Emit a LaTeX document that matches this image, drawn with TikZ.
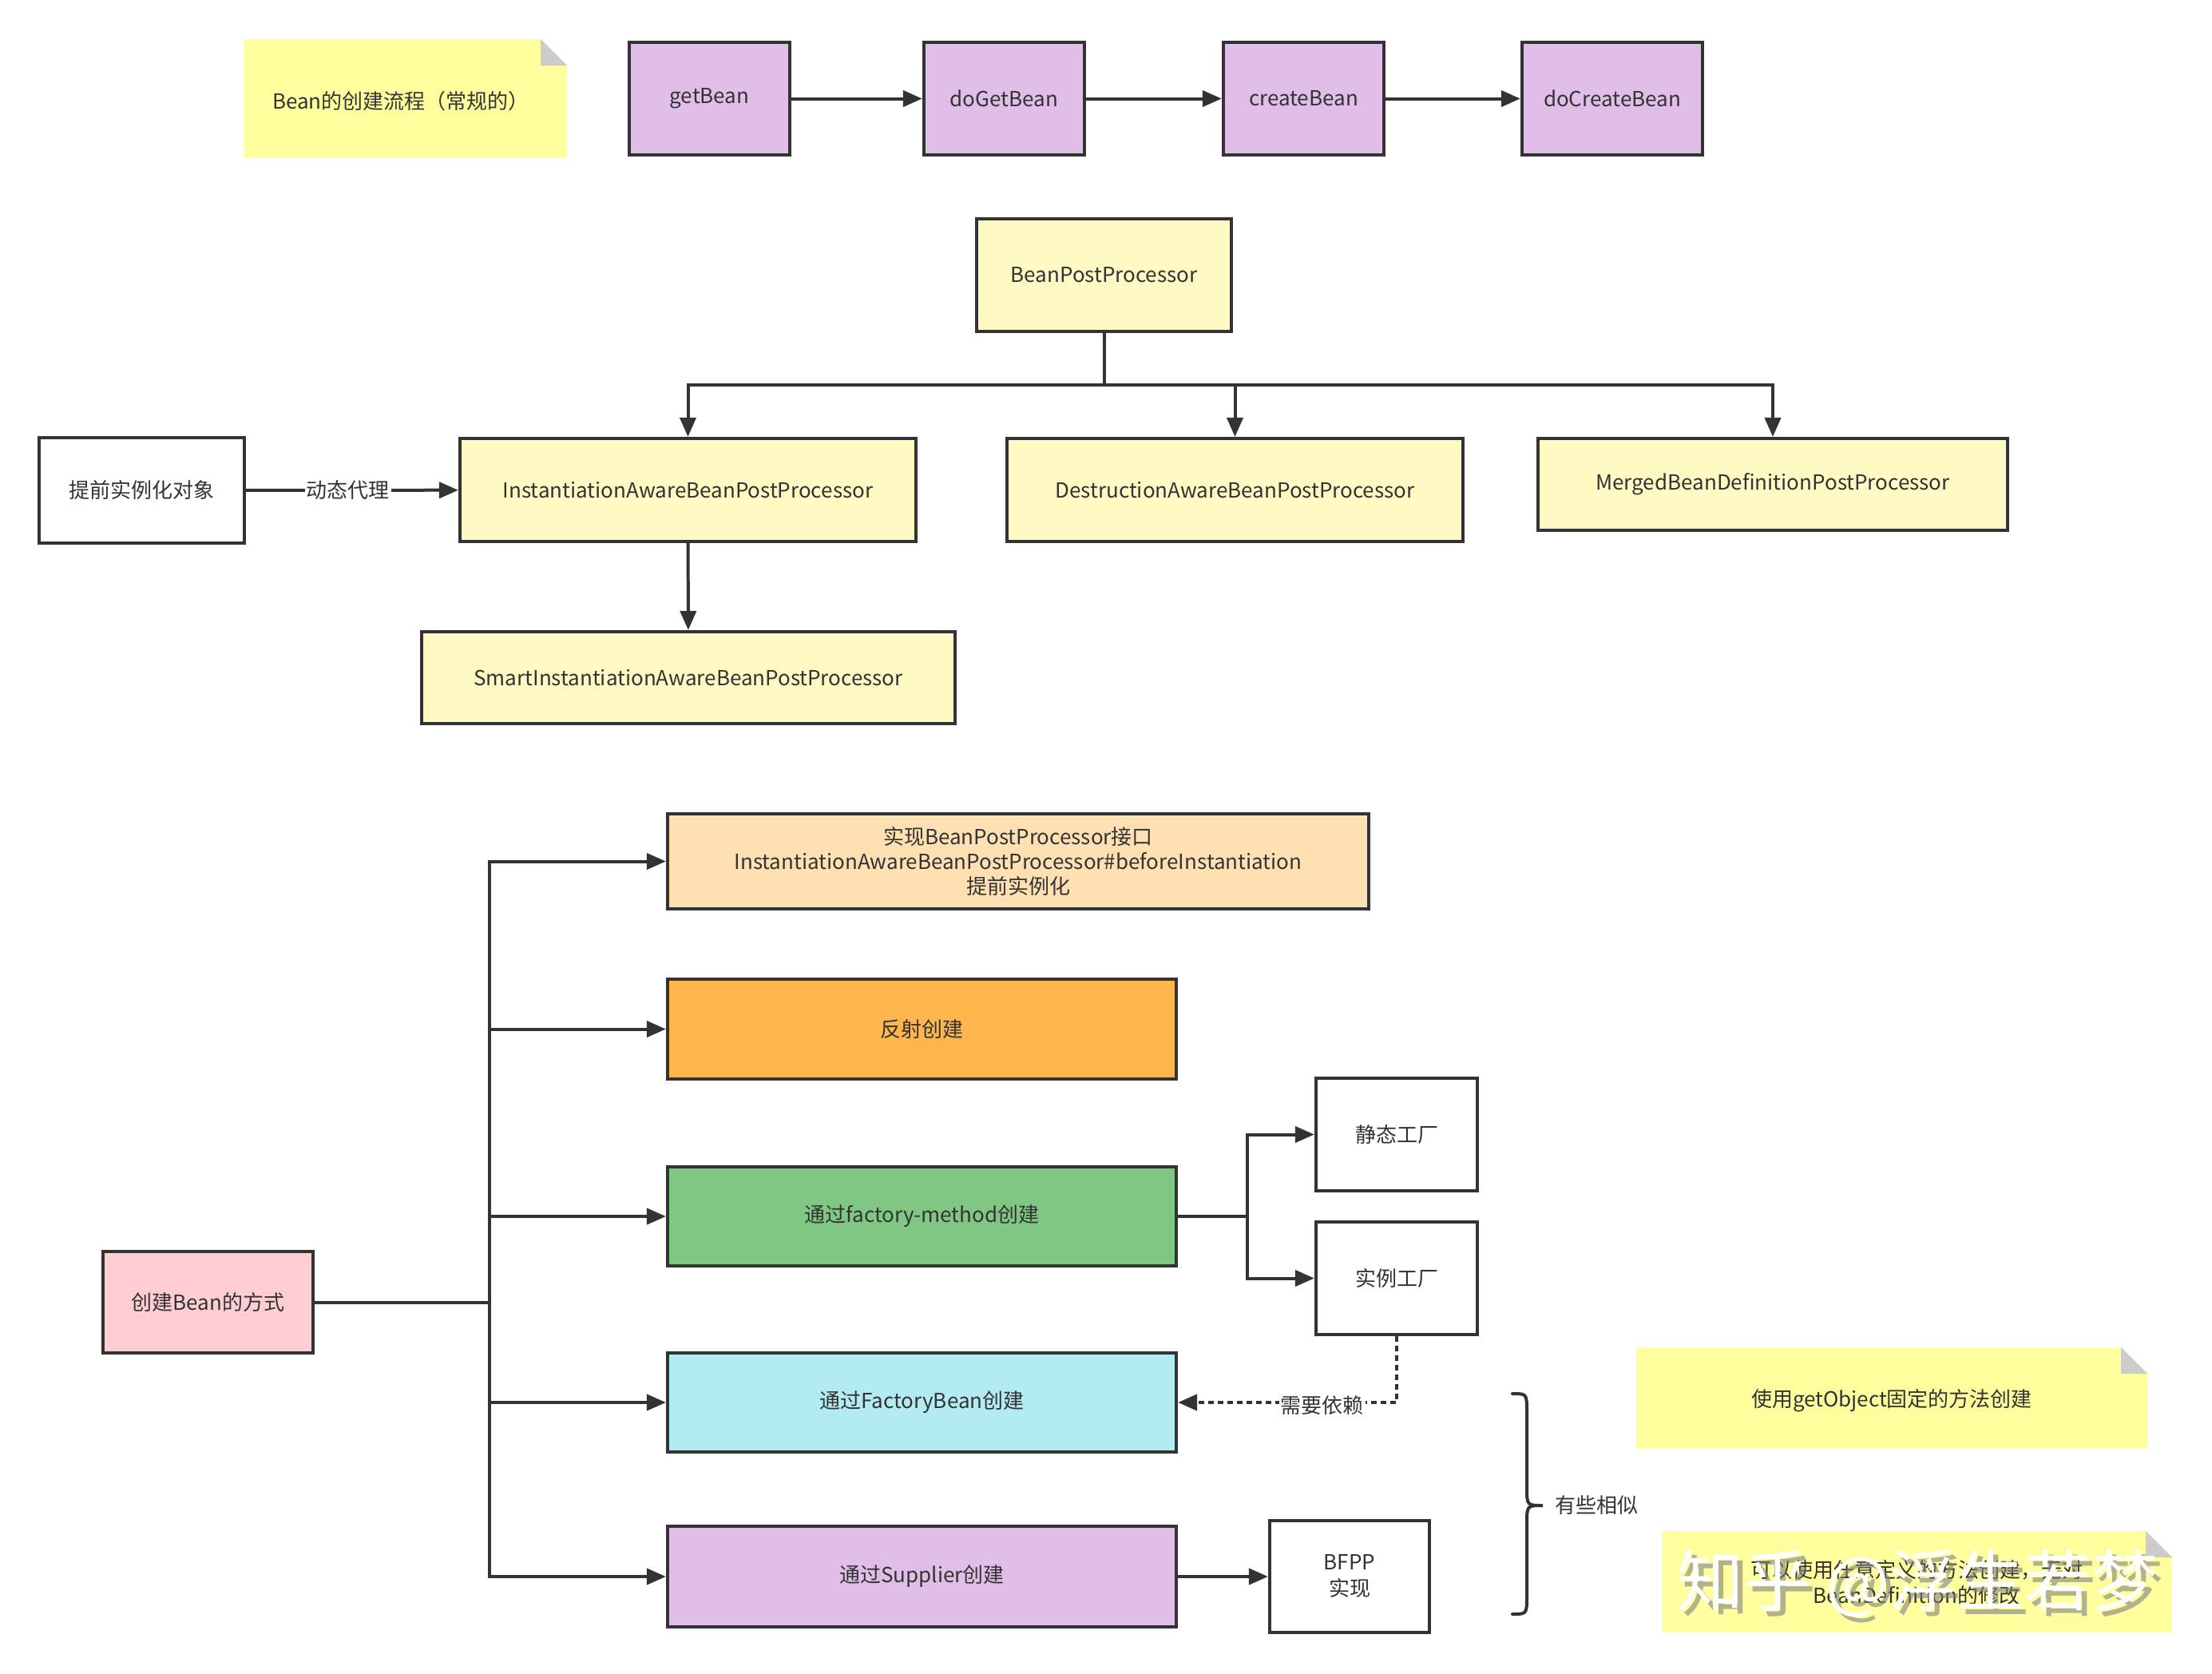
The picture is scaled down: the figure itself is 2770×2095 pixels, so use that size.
\documentclass[tikz,border=0pt]{standalone}
\usepackage{fontspec}
\setmainfont{Noto Sans CJK SC}
\usetikzlibrary{arrows.meta}
\definecolor{bd}{HTML}{333333}
\definecolor{txt}{HTML}{333333}
\definecolor{notey}{HTML}{FFFF9E}
\definecolor{fold}{HTML}{CCCCCC}
\definecolor{purp}{HTML}{E1BEE7}
\definecolor{bppy}{HTML}{FFF9C4}
\definecolor{lorange}{HTML}{FFE0B2}
\definecolor{orng}{HTML}{FFB74D}
\definecolor{grn}{HTML}{81C784}
\definecolor{cyn}{HTML}{B2EBF2}
\definecolor{pnk}{HTML}{FFCDD2}
\begin{document}
\begin{tikzpicture}[x=0.5pt,y=-0.5pt,
  every node/.style={font=\fontsize{13pt}{16pt}\selectfont, text=txt},
  bx/.style={draw=bd, line width=2.1pt, inner sep=0pt, align=center},
  conn/.style={draw=bd, line width=2pt},
  arr/.style={conn, -{Triangle[length=12pt,width=10pt]}},
  lbl/.style={fill=white, inner sep=1pt}]
\useasboundingbox (0,0) rectangle (2770,2095);
\fill[white] (0,0) rectangle (2770,2095);

% ---- notes
\fill[notey] (306,49) -- (677,49) -- (710,82) -- (710,198) -- (306,198) -- cycle;
\fill[fold] (677,49) -- (677,82) -- (710,82) -- cycle;
\node (n1) at (502,127) {Bean的创建流程（常规的）};

\fill[notey] (2049,1687) -- (2656,1687) -- (2689,1720) -- (2689,1814) -- (2049,1814) -- cycle;
\fill[fold] (2656,1687) -- (2656,1720) -- (2689,1720) -- cycle;
\node (n2) at (2369,1754) {使用getObject固定的方法创建};

\fill[notey] (2081,1917) -- (2687,1917) -- (2720,1950) -- (2720,2044) -- (2081,2044) -- cycle;
\fill[fold] (2687,1917) -- (2687,1950) -- (2720,1950) -- cycle;
\node[align=center] (n3) at (2400,1982) {可以使用任意定义的方法创建，无对\\BeanDefinition的修改};

% ---- top row
\node[bx, fill=purp, minimum width=100.5pt, minimum height=70.5pt] (getb) at (888.5,123.5) {getBean};
\node[bx, fill=purp, minimum width=100.5pt, minimum height=70.5pt] (dogetb) at (1257.5,123.5) {doGetBean};
\node[bx, fill=purp, minimum width=100.5pt, minimum height=70.5pt] (createb) at (1632.5,123.5) {createBean};
\node[bx, fill=purp, minimum width=113pt, minimum height=70.5pt] (docreateb) at (2019,123.5) {doCreateBean};
\draw[arr] (getb) -- (dogetb);
\draw[arr] (dogetb) -- (createb);
\draw[arr] (createb) -- (docreateb);

% ---- BPP tree
\node[bx, fill=bppy, minimum width=159.5pt, minimum height=70.5pt] (bpp) at (1382.5,344.5) {BeanPostProcessor};
\node[bx, fill=bppy, minimum width=285.5pt, minimum height=64.5pt] (iabpp) at (861.5,613.5) {InstantiationAwareBeanPostProcessor};
\node[bx, fill=bppy, minimum width=285.5pt, minimum height=64.5pt] (dabpp) at (1546.5,613.5) {DestructionAwareBeanPostProcessor};
\node[bx, fill=bppy, minimum width=294pt, minimum height=57.5pt] (mbdpp) at (2220,606.5) {MergedBeanDefinitionPostProcessor};
\node[bx, fill=white, minimum width=128.5pt, minimum height=66pt] (early) at (177.5,614) {提前实例化对象};
\node[bx, fill=bppy, minimum width=334pt, minimum height=57.5pt] (smart) at (862,848.5) {SmartInstantiationAwareBeanPostProcessor};

\draw[arr] (bpp.south) -- ++(0,65) -| (iabpp.north);
\draw[arr] (bpp.south) -- ++(0,65) -| (dabpp.north);
\draw[arr] (bpp.south) -- ++(0,65) -| (mbdpp.north);
\draw[arr] (early) -- node[lbl, pos=0.48] {动态代理} (iabpp);
\draw[arr] (iabpp) -- (smart);

% ---- creation ways
\node[bx, fill=pnk, minimum width=131.5pt, minimum height=63.5pt] (ways) at (260.5,1630.5) {创建Bean的方式};
\node[bx, fill=lorange, minimum width=439pt, minimum height=59.5pt, font=\fontsize{13pt}{15.5pt}\selectfont] (lo) at (1275,1078.5) {实现BeanPostProcessor接口\\InstantiationAwareBeanPostProcessor\#beforeInstantiation\\提前实例化};
\node[bx, fill=orng, minimum width=318.5pt, minimum height=62.5pt] (refl) at (1154.5,1288.5) {反射创建};
\node[bx, fill=grn, minimum width=318.5pt, minimum height=62pt] (fm) at (1154.5,1523) {通过factory-method创建};
\node[bx, fill=cyn, minimum width=318.5pt, minimum height=62pt] (fb) at (1154.5,1756) {通过FactoryBean创建};
\node[bx, fill=purp, minimum width=318.5pt, minimum height=63pt] (sup) at (1154.5,1974) {通过Supplier创建};
\node[bx, fill=white, minimum width=101pt, minimum height=70.5pt] (sf) at (1749,1420.5) {静态工厂};
\node[bx, fill=white, minimum width=101pt, minimum height=70.5pt] (inf) at (1749,1600.5) {实例工厂};
\node[bx, fill=white, minimum width=100pt, minimum height=70pt, font=\fontsize{13pt}{16.5pt}\selectfont] (bfpp) at (1690,1974) {BFPP\\实现};

\coordinate (j1) at (613,1630.5);
\draw[arr] (ways.east) -- (j1) |- (lo.west);
\draw[arr] (ways.east) -- (j1) |- (refl.west);
\draw[arr] (ways.east) -- (j1) |- (fm.west);
\draw[arr] (ways.east) -- (j1) |- (fb.west);
\draw[arr] (ways.east) -- (j1) |- (sup.west);

\coordinate (j2) at (1562,1523);
\draw[arr] (fm.east) -- (j2) |- (sf.west);
\draw[arr] (fm.east) -- (j2) |- (inf.west);

\draw[arr, dash pattern=on 3.5pt off 2.5pt] (inf.south) |- node[lbl, pos=0.67, yshift=-2pt] {需要依赖} (fb.east);
\draw[arr] (sup) -- (bfpp);

% ---- brace
\draw[conn, line cap=round] (1894,1745) .. controls (1912,1745) .. (1912,1768) -- (1912,1862)
  .. controls (1912,1885) .. (1932,1885) .. controls (1912,1885) .. (1912,1908) -- (1912,1998)
  .. controls (1912,2021) .. (1894,2021);
\node[anchor=west] (sim) at (1940,1885) {有些相似};

% ---- watermark
\node[text=gray, opacity=0.6, font=\fontsize{42pt}{45pt}\selectfont] (wms) at (2408,1989) {知乎 @浮生若梦};
\node[text=white, font=\fontsize{42pt}{45pt}\selectfont] (wm) at (2401,1982) {知乎 @浮生若梦};
\end{tikzpicture}
\end{document}
